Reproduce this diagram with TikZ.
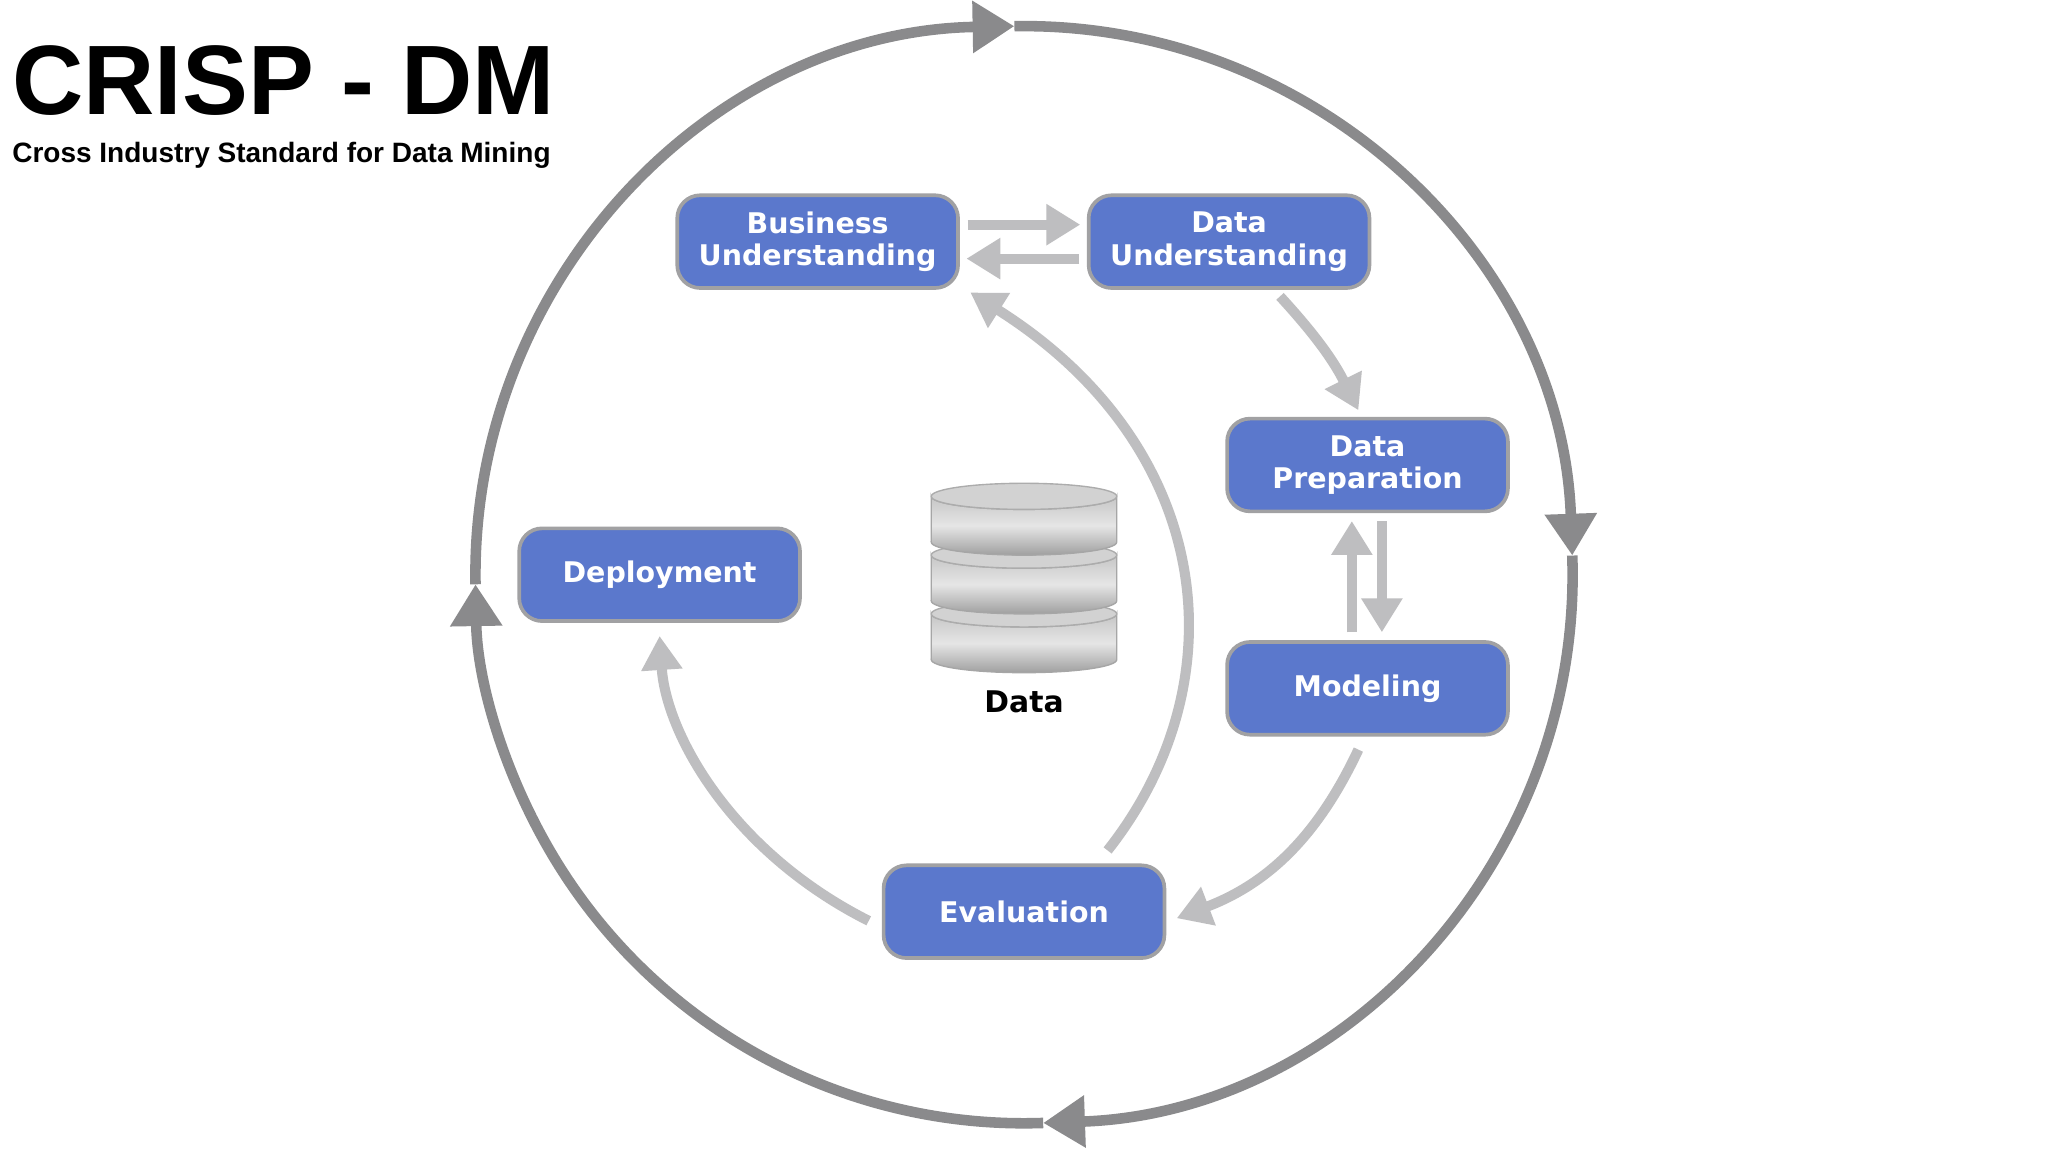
\documentclass[tikz,border=0pt]{standalone}
\usepackage{fontspec}
\setmainfont{DejaVu Sans}
\newfontfamily\titlefont{Liberation Sans}
\usetikzlibrary{arrows.meta,calc}
\definecolor{boxblue}{HTML}{5B78CC}
\definecolor{ring}{HTML}{8A8A8C}
\definecolor{lite}{HTML}{BEBEC0}
\tikzset{
 phase/.style={draw=ring!80,line width=0.8pt,fill=boxblue,rounded corners=5pt,minimum width=2.15cm,minimum height=0.71cm,text=white,font=\fontsize{6.2}{7}\selectfont\bfseries,align=center},
 ringarc/.style={draw=ring,line width=2.3pt,-{Triangle[length=0.32cm,width=0.38cm]}},
 flow/.style={draw=lite,line width=2.2pt,-{Triangle[length=0.26cm,width=0.3cm]}},
 disk/.style={draw=gray!70,line width=0.3pt,top color=gray!45,bottom color=gray!75,middle color=gray!20}
}
\begin{document}
\begin{tikzpicture}
\useasboundingbox (0,0) rectangle (15.68,8.82);
\fill[white] (0,0) rectangle (15.68,8.82);
\node[anchor=west,font=\titlefont\fontsize{21.5}{24}\selectfont\bfseries] (title) at (-0.03,8.2) {CRISP - DM};
\node[anchor=west,font=\titlefont\fontsize{6.1}{7}\selectfont\bfseries] (sub) at (-0.03,7.63) {Cross Industry Standard for Data Mining};
% outer ring
\coordinate (c) at (7.84,4.42);
\draw[ringarc] ($(c)+(181:4.2)$) arc (181:91:4.2);
\draw[ringarc] ($(c)+(91:4.2)$) arc (91:2:4.2);
\draw[ringarc] ($(c)+(2:4.2)$) arc (2:-88:4.2);
\draw[ringarc] ($(c)+(-88:4.2)$) arc (-88:-179:4.2);
% phases
\node[phase] (BU) at (6.26,6.97) {Business\\Understanding};
\node[phase] (DU) at (9.41,6.97) {Data\\Understanding};
\node[phase] (DP) at (10.47,5.26) {Data\\Preparation};
\node[phase] (MO) at (10.47,3.55) {Modeling};
\node[phase] (EV) at (7.84,1.84) {Evaluation};
\node[phase] (DE) at (5.05,4.42) {Deployment};
% flows
\draw[flow] ($(BU.east)+(0.06,0.13)$) -- ($(DU.west)+(-0.05,0.13)$);
\draw[flow] ($(DU.west)+(-0.06,-0.13)$) -- ($(BU.east)+(0.05,-0.13)$);
\draw[flow] ($(DU.south)+(0.39,-0.05)$) to[bend left=8] ($(DP.north)+(-0.07,0.05)$);
\draw[flow] ($(DP.south)+(0.11,-0.06)$) -- ($(MO.north)+(0.11,0.06)$);
\draw[flow] ($(MO.north)+(-0.12,0.06)$) -- ($(DP.south)+(-0.12,-0.06)$);
\draw[flow] ($(MO.south)+(-0.07,-0.1)$) to[bend left=22] ($(EV.east)+(0.08,-0.05)$);
\draw[flow] ($(EV.north)+(0.64,0.1)$) .. controls (9.5,3.6) and (9.3,5.4) .. ($(BU.south east)+(0.08,-0.02)$);
\draw[flow] ($(EV.west)+(-0.1,-0.07)$) .. controls (5.6,2.3) and (5.1,3.2) .. ($(DE.south)+(0,-0.1)$);
% database
\foreach \y in {3.77,4.22,4.67}{
 \fill[disk] (7.13,\y) -- (7.13,\y+0.35) arc (180:360:0.71 and 0.1) -- (8.55,\y) arc (0:-180:0.71 and 0.1) -- cycle;
 \fill[gray!35,draw=gray!65,line width=0.3pt] (7.84,\y+0.35) ellipse (0.71 and 0.1);
}
\node[font=\fontsize{6.5}{7}\selectfont\bfseries] (data) at (7.84,3.45) {Data};
\end{tikzpicture}
\end{document}
